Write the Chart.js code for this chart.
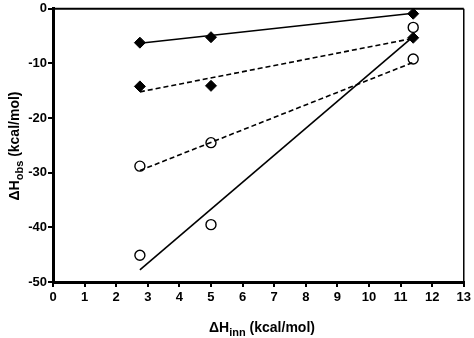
<!DOCTYPE html>
<html>
<head>
<meta charset="utf-8">
<script src="https://cdn.jsdelivr.net/npm/chart.js@4.4.0/dist/chart.umd.min.js"></script>
<style>
  html, body { margin: 0; padding: 0; background: #fff; }
  #wrap { width: 474px; height: 338px; }
</style>
</head>
<body>
<div id="wrap"><canvas id="enthalpy" width="474" height="338"></canvas></div>
<script>
// x positions (ΔH inn) shared by all series
let xInn = [2.75, 5.0, 11.4];

// measured ΔH obs values
let diamondTop = [-6.2, -5.2, -0.9];
let diamondLow = [-14.2, -14.1, -5.3];
let circleUpper = [-28.8, -24.5, -9.2];
let circleLower = [-45.1, -39.5, -3.4];

// fitted line endpoints
let fitX = [2.75, 11.4];
let fitTop = [-6.3, -0.8];
let fitLow = [-15.2, -5.4];
let fitUpper = [-29.6, -9.8];
let fitLower = [-47.8, -5.1];

let xTicks = [0, 1, 2, 3, 4, 5, 6, 7, 8, 9, 10, 11, 12, 13];
let yTicks = [0, -10, -20, -30, -40, -50];

let font = '"Liberation Sans", Arial, sans-serif';

function pts(xs, ys) {
	return xs.map(function (x, i) { return { x: x, y: ys[i] }; });
}

function fitLine(ys, dashed) {
	return {
		data: pts(fitX, ys),
		borderColor: '#000',
		borderWidth: 1.6,
		borderDash: dashed ? [5, 3] : [],
		pointRadius: 0,
		showLine: true,
		fill: false
	};
}

function markers(ys, filled) {
	return {
		data: pts(xInn, ys),
		showLine: false,
		pointStyle: filled ? 'rectRot' : 'circle',
		pointRadius: filled ? 5.5 : 5,
		pointBackgroundColor: filled ? '#000' : '#fff',
		pointBorderColor: '#000',
		pointBorderWidth: filled ? 1 : 1.4
	};
}

// frame on top/right plus the subscripted axis titles
let decor = {
	id: 'decor',
	afterDraw: function (chart) {
		let ctx = chart.ctx;
		let a = chart.chartArea;
		ctx.save();
		ctx.strokeStyle = '#000';
		ctx.lineWidth = 2;
		ctx.beginPath();
		ctx.moveTo(a.left, a.top);
		ctx.lineTo(a.right, a.top);
		ctx.stroke();
		ctx.lineWidth = 1.5;
		ctx.beginPath();
		ctx.moveTo(a.right, a.top);
		ctx.lineTo(a.right, a.bottom);
		ctx.stroke();

		ctx.fillStyle = '#000';
		ctx.textBaseline = 'alphabetic';

		function title(sub, x, y) {
			let big = 'bold 14px ' + font;
			let small = 'bold 11px ' + font;
			ctx.font = big;
			let w1 = ctx.measureText('ΔH').width;
			ctx.font = small;
			let w2 = ctx.measureText(sub).width;
			ctx.font = big;
			let w3 = ctx.measureText(' (kcal/mol)').width;
			let x0 = x - (w1 + w2 + w3) / 2;
			ctx.textAlign = 'left';
			ctx.fillText('ΔH', x0, y);
			ctx.font = small;
			ctx.fillText(sub, x0 + w1, y + 4);
			ctx.font = big;
			ctx.fillText(' (kcal/mol)', x0 + w1 + w2, y);
		}

		title('inn', 262, 332);

		ctx.translate(19, 146);
		ctx.rotate(-Math.PI / 2);
		title('obs', 0, 0);
		ctx.restore();
	}
};

new Chart('enthalpy', {
	type: 'scatter',
	data: {
		datasets: [
			fitLine(fitTop, false),
			fitLine(fitLow, true),
			fitLine(fitUpper, true),
			fitLine(fitLower, false),
			markers(diamondTop, true),
			markers(diamondLow, true),
			markers(circleUpper, false),
			markers(circleLower, false)
		]
	},
	options: {
		responsive: false,
		animation: false,
		layout: { padding: { top: 6, right: 6, left: 0, bottom: 0 } },
		plugins: {
			legend: { display: false },
			tooltip: { enabled: false }
		},
		scales: {
			x: {
				type: 'linear',
				min: 0,
				max: 13,
				afterFit: function (s) { s.height = 56; },
				afterBuildTicks: function (s) { s.ticks = xTicks.map(function (v) { return { value: v }; }); },
				border: { color: '#000', width: 3 },
				grid: { drawOnChartArea: false, tickLength: 5, color: '#000', lineWidth: 2 },
				ticks: { color: '#000', padding: 3, font: { family: font, size: 13, weight: 'bold' } }
			},
			y: {
				type: 'linear',
				min: -50,
				max: 0,
				afterFit: function (s) { s.width = 53; },
				afterBuildTicks: function (s) { s.ticks = yTicks.map(function (v) { return { value: v }; }); },
				border: { color: '#000', width: 3 },
				grid: { drawOnChartArea: false, tickLength: 5, color: '#000', lineWidth: 2 },
				ticks: { color: '#000', padding: 1, font: { family: font, size: 13, weight: 'bold' } }
			}
		}
	},
	plugins: [decor]
});
</script>
</body>
</html>
